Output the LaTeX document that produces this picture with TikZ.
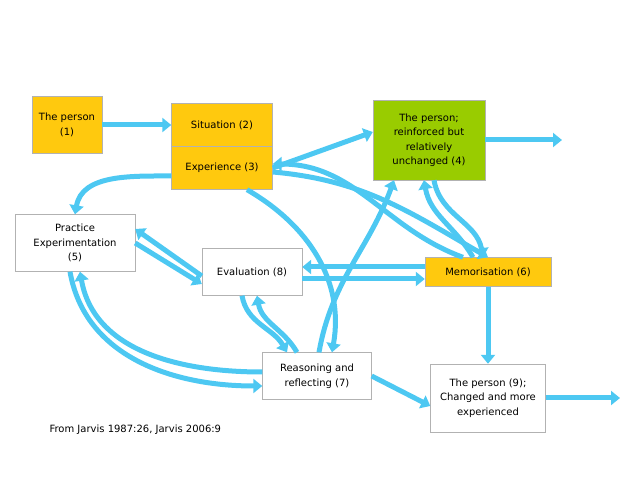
\documentclass[tikz,border=0pt]{standalone}
\usepackage{fontspec}
\setmainfont{DejaVu Sans}
\usetikzlibrary{arrows.meta}
\definecolor{boxorange}{HTML}{FFC90E}
\definecolor{boxgreen}{HTML}{99CC00}
\definecolor{flow}{HTML}{4DC8F2}
\tikzset{
  box/.style={draw=gray!60, align=center, font=\fontsize{10}{14.5}\selectfont, inner sep=2pt},
  flowarrow/.style={draw=flow, line width=5pt, -{Triangle[length=9pt,width=14pt]}},
}
\begin{document}
\begin{tikzpicture}[x=1pt,y=-1pt]
\useasboundingbox (0,0) rectangle (638,478);
\node[box, fill=boxorange, minimum width=70pt, minimum height=57pt] (person) at (67,125) {The person\\(1)};
\node[box, fill=boxorange, minimum width=101pt, minimum height=43pt] (sit) at (222,125) {Situation (2)};
\node[box, fill=boxorange, minimum width=101pt, minimum height=43pt] (exp) at (222,168) {Experience (3)};
\node[box, fill=boxgreen, minimum width=112pt, minimum height=80pt] (reinf) at (429,140) {The person;\\reinforced but\\relatively\\unchanged (4)};
\node[box, fill=white, minimum width=120pt, minimum height=57pt] (pract) at (75,243) {Practice\\Experimentation\\(5)};
\node[box, fill=white, minimum width=100pt, minimum height=47pt] (eval) at (252,272) {Evaluation (8)};
\node[box, fill=boxorange, minimum width=126pt, minimum height=29pt] (memo) at (488,272) {Memorisation (6)};
\node[box, fill=white, minimum width=109pt, minimum height=47pt] (reason) at (317,376) {Reasoning and\\reflecting (7)};
\node[box, fill=white, minimum width=115pt, minimum height=68pt] (changed) at (488,398) {The person (9);\\Changed and more\\experienced};
\node[font=\fontsize{10}{12}\selectfont, anchor=west] (src) at (46,430) {From Jarvis 1987:26, Jarvis 2006:9};
\coordinate (out4) at (562,140);
\coordinate (out9) at (620,398);
% straight flows
\draw[flowarrow] (person.east) -- (sit.west);
\draw[flowarrow] (reinf.east) -- (out4);
\draw[flowarrow] (changed.east |- out9) -- (out9);
\draw[flowarrow] (exp.east) -- ([yshift=8pt]reinf.west);
\draw[flowarrow] (memo.south) -- (changed.north);
\draw[flowarrow] (reason.east) -- ([yshift=-8pt]changed.west);
\draw[flowarrow] ([yshift=-7pt]eval.east) -- ([yshift=-7pt]memo.west);
\draw[flowarrow] ([yshift=5pt]memo.west) -- ([yshift=5pt]eval.east);
\draw[flowarrow] (pract.east) -- ([yshift=-12pt]eval.west);
\draw[flowarrow] ([yshift=-4pt]eval.west) -- ([yshift=14pt]pract.east);
% curved flows
\draw[flowarrow] ([yshift=-8pt]exp.west) to[out=180,in=80] (pract.north);
\draw[flowarrow] ([yshift=-4pt]exp.east) to[out=-5,in=150] (memo.north);
\draw[flowarrow] ([xshift=-25pt]memo.north) to[out=160,in=0] ([yshift=4pt]exp.east);
\draw[flowarrow] ([xshift=-15pt]memo.north) to[out=120,in=-80] ([xshift=-5pt]reinf.south);
\draw[flowarrow] ([xshift=5pt]reinf.south) to[out=-80,in=100] ([xshift=-5pt]memo.north);
\draw[flowarrow] ([xshift=25pt]exp.south) to[out=-30,in=80] ([xshift=15pt]reason.north);
\draw[flowarrow] ([xshift=2pt]reason.north) to[out=80,in=-110] ([xshift=-35pt]reinf.south);
\draw[flowarrow] ([xshift=-20pt]reason.north) to[out=120,in=-80] ([xshift=5pt]eval.south);
\draw[flowarrow] ([xshift=-10pt]eval.south) to[out=-80,in=120] ([xshift=-30pt]reason.north);
\draw[flowarrow] ([yshift=4pt]reason.west) to[out=180,in=-80] ([xshift=5pt]pract.south);
\draw[flowarrow] ([xshift=-5pt]pract.south) to[out=-80,in=180] ([yshift=-10pt]reason.west);
\end{tikzpicture}
\end{document}
